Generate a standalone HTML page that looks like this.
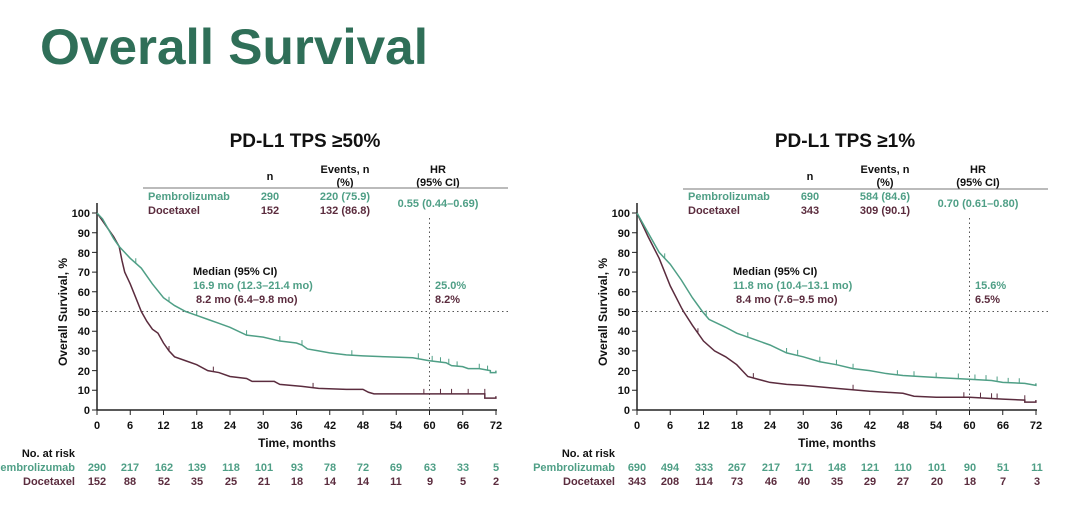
<!DOCTYPE html>
<html><head><meta charset="utf-8"><style>
html,body{margin:0;padding:0;background:#fff;}
svg{display:block;font-family:"Liberation Sans",Arial,sans-serif;font-weight:bold;}
.g{fill:#4f9f86}.m{fill:#5b2c3e}.k{fill:#111}
</style></head><body>
<svg width="1080" height="520" viewBox="0 0 1080 520">
<text x="40" y="64" font-size="50" fill="#2f6f58" textLength="388" lengthAdjust="spacingAndGlyphs">Overall Survival</text>

<g id="L">
<text x="305" y="147" font-size="19" text-anchor="middle" class="k">PD-L1 TPS ≥50%</text>
<g font-size="11" text-anchor="middle">
<text x="270" y="180" class="k">n</text>
<text x="345" y="173" class="k">Events, n</text>
<text x="345" y="186" class="k">(%)</text>
<text x="438" y="173" class="k">HR</text>
<text x="438" y="186" class="k">(95% CI)</text>
<text x="270" y="200" class="g">290</text>
<text x="345" y="200" class="g">220 (75.9)</text>
<text x="270" y="214" class="m">152</text>
<text x="345" y="214" class="m">132 (86.8)</text>
<text x="438" y="207" class="g">0.55 (0.44–0.69)</text>
</g>
<line x1="143" y1="188" x2="508" y2="188" stroke="#777" stroke-width="1"/>
<text x="148" y="200" font-size="11" class="g">Pembrolizumab</text>
<text x="148" y="214" font-size="11" class="m">Docetaxel</text>
</g>

<g id="R">
<text x="845" y="147" font-size="19" text-anchor="middle" class="k">PD-L1 TPS ≥1%</text>
<g font-size="11" text-anchor="middle">
<text x="810" y="180" class="k">n</text>
<text x="885" y="173" class="k">Events, n</text>
<text x="885" y="186" class="k">(%)</text>
<text x="978" y="173" class="k">HR</text>
<text x="978" y="186" class="k">(95% CI)</text>
<text x="810" y="200" class="g">690</text>
<text x="885" y="200" class="g">584 (84.6)</text>
<text x="810" y="214" class="m">343</text>
<text x="885" y="214" class="m">309 (90.1)</text>
<text x="978" y="207" class="g">0.70 (0.61–0.80)</text>
</g>
<line x1="683" y1="189" x2="1048" y2="189" stroke="#777" stroke-width="1"/>
<text x="688" y="200" font-size="11" class="g">Pembrolizumab</text>
<text x="688" y="214" font-size="11" class="m">Docetaxel</text>
</g>

<g id="axL">
<line x1="97" y1="203" x2="97" y2="410" stroke="#222" stroke-width="1.5"/>
<line x1="97" y1="410" x2="497" y2="410" stroke="#222" stroke-width="1.5"/>
<g font-size="11" text-anchor="end" class="k">
<text x="90" y="414">0</text><text x="90" y="394">10</text><text x="90" y="375">20</text><text x="90" y="355">30</text><text x="90" y="335">40</text><text x="90" y="316">50</text><text x="90" y="296">60</text><text x="90" y="276">70</text><text x="90" y="257">80</text><text x="90" y="237">90</text><text x="90" y="217">100</text>
</g>
<path d="M92 410h5M92 390.3h5M92 370.6h5M92 350.9h5M92 331.2h5M92 311.5h5M92 291.8h5M92 272.1h5M92 252.4h5M92 232.7h5M92 213h5" stroke="#222"/>
<path d="M97 410v5M130.25 410v5M163.5 410v5M196.75 410v5M230 410v5M263.25 410v5M296.5 410v5M329.75 410v5M363 410v5M396.25 410v5M429.5 410v5M462.75 410v5M496 410v5" stroke="#222"/>
<g font-size="11" text-anchor="middle" class="k">
<text x="97" y="429">0</text><text x="130" y="429">6</text><text x="163.5" y="429">12</text><text x="197" y="429">18</text><text x="230" y="429">24</text><text x="263" y="429">30</text><text x="296.5" y="429">36</text><text x="330" y="429">42</text><text x="363" y="429">48</text><text x="396" y="429">54</text><text x="429.5" y="429">60</text><text x="463" y="429">66</text><text x="496" y="429">72</text>
</g>
<text x="297" y="447" font-size="12" text-anchor="middle" class="k">Time, months</text>
<text transform="translate(67,312) rotate(-90)" font-size="12" text-anchor="middle" class="k">Overall Survival, %</text>
<line x1="97" y1="311.5" x2="508" y2="311.5" stroke="#555" stroke-dasharray="1.5,3"/>
<line x1="429.5" y1="218" x2="429.5" y2="410" stroke="#555" stroke-dasharray="1.5,3"/>
</g>
<use href="#axL" transform="translate(540,0)"/>

<text x="193" y="275" font-size="11" class="k">Median (95% CI)</text>
<text x="193" y="289" font-size="11" class="g">16.9 mo (12.3–21.4 mo)</text>
<text x="196" y="303" font-size="11" class="m">8.2 mo (6.4–9.8 mo)</text>
<text x="435" y="289" font-size="11" class="g">25.0%</text>
<text x="435" y="303" font-size="11" class="m">8.2%</text>
<text x="733" y="275" font-size="11" class="k">Median (95% CI)</text>
<text x="733" y="289" font-size="11" class="g">11.8 mo (10.4–13.1 mo)</text>
<text x="736" y="303" font-size="11" class="m">8.4 mo (7.6–9.5 mo)</text>
<text x="975" y="289" font-size="11" class="g">15.6%</text>
<text x="975" y="303" font-size="11" class="m">6.5%</text>

<g transform="translate(97,410) scale(5.54,-1.97)" fill="none" stroke-width="1.5">
<polyline vector-effect="non-scaling-stroke" stroke="#5b2c3e" points="0,100 1,96 2,92 3,88 4,83 4.5,76 5,70 6,64 7,57 8,50 9,45 10,41 11,39 12,34 13,30 14,27 16,25 18,23 20,20 22,19 24,17 27,16 28,14.5 32,14.5 33,13 37,12 40,11 45,10.5 48,10.5 49,9 50,8.2 70,8.2 70,6 72,6 72,7"/>
<polyline vector-effect="non-scaling-stroke" stroke="#4f9f86" points="0,100 1,97 2,92 3,87 4,83 5,80 6,77 8,72 10,64 12,57 14,53 16,50 18,48 20,46 22,44 24,42 27,38 30,37 33,35 36,34 37,33 38,31 40,30 42,29 45,28 48,27.5 52,27 57,26.5 60,25 63,24 64,22.5 66,22 67,21 69,21 71,20 71,19 72,19 72,20"/>
<path vector-effect="non-scaling-stroke" stroke="#4f9f86" stroke-width="1" d="M7,74.5v2.5M13,55v2.5M18,48v2.5M27,38v2.5M33,35v2.5M37,33v2.5M46,27.8v2.5M58,26.3v2.5M60.5,25v2.5M62,24.3v2.5M63.5,23.5v2.5M65,22.2v2.5M69,21v2.5M70.5,20v2.5"/>
<path vector-effect="non-scaling-stroke" stroke="#5b2c3e" stroke-width="1" d="M13,30v2.5M21,19.5v2.5M39,11.3v2.5M59,8.2v2.5M62,8.2v2.5M64,8.2v2.5M67,8.2v2.5M70,8.2v2.5"/>
</g>
<g transform="translate(637,410) scale(5.54,-1.97)" fill="none" stroke-width="1.5">
<polyline vector-effect="non-scaling-stroke" stroke="#5b2c3e" points="0,100 2,88 4,77 6,63 8,52 8.4,50 10,43 12,35 14,30 16,27 18,23 19,20 20,17 22,15.5 24,14 27,13 30,12.5 36,11 42,9.5 48,8.5 50,7 54,6.5 60,6.5 66,5.5 70,5 70,4 72,4 72,5"/>
<polyline vector-effect="non-scaling-stroke" stroke="#4f9f86" points="0,100 2,90 4,80 6,74 8,66 10,57 11.8,50 13,46 16,42 18,39 21,36 24,33 27,29 30,27 33,24.5 36,23 39,21 42,20 45,18.5 48,17.5 54,16.5 60,15.6 64,15 66,14 70,13.5 72,12.5 72,13.5"/>
<path vector-effect="non-scaling-stroke" stroke="#4f9f86" stroke-width="1" d="M5,77v2.5M12.5,48v2.5M20,37v2.5M27,29v2.5M29,28v2.5M33,24.5v2.5M36,23v2.5M39,21v2.5M47,17.7v2.5M50,17.2v2.5M54,16.5v2.5M58,16v2.5M61,15.5v2.5M63,15.2v2.5M65,14.5v2.5M67,13.8v2.5M69,13.6v2.5"/>
<path vector-effect="non-scaling-stroke" stroke="#5b2c3e" stroke-width="1" d="M11,39v2.5M21,16.2v2.5M39,10.3v2.5M59,6.5v2.5M62,6.3v2.5M64,6v2.5M65,5.9v2.5M70,5v2.5"/>
</g>

<g font-size="11">
<text x="75" y="457" text-anchor="end" class="k">No. at risk</text>
<text x="75" y="471" text-anchor="end" class="g">Pembrolizumab</text>
<text x="75" y="485" text-anchor="end" class="m">Docetaxel</text>
<g text-anchor="middle" class="g"><text x="97" y="471">290</text><text x="130" y="471">217</text><text x="164" y="471">162</text><text x="197" y="471">139</text><text x="231" y="471">118</text><text x="264" y="471">101</text><text x="297" y="471">93</text><text x="330" y="471">78</text><text x="363" y="471">72</text><text x="396" y="471">69</text><text x="430" y="471">63</text><text x="463" y="471">33</text><text x="496" y="471">5</text></g>
<g text-anchor="middle" class="m"><text x="97" y="485">152</text><text x="130" y="485">88</text><text x="164" y="485">52</text><text x="197" y="485">35</text><text x="231" y="485">25</text><text x="264" y="485">21</text><text x="297" y="485">18</text><text x="330" y="485">14</text><text x="363" y="485">14</text><text x="396" y="485">11</text><text x="430" y="485">9</text><text x="463" y="485">5</text><text x="496" y="485">2</text></g>
<text x="615" y="457" text-anchor="end" class="k">No. at risk</text>
<text x="615" y="471" text-anchor="end" class="g">Pembrolizumab</text>
<text x="615" y="485" text-anchor="end" class="m">Docetaxel</text>
<g text-anchor="middle" class="g"><text x="637" y="471">690</text><text x="670" y="471">494</text><text x="704" y="471">333</text><text x="737" y="471">267</text><text x="771" y="471">217</text><text x="804" y="471">171</text><text x="837" y="471">148</text><text x="870" y="471">121</text><text x="903" y="471">110</text><text x="937" y="471">101</text><text x="970" y="471">90</text><text x="1003" y="471">51</text><text x="1037" y="471">11</text></g>
<g text-anchor="middle" class="m"><text x="637" y="485">343</text><text x="670" y="485">208</text><text x="704" y="485">114</text><text x="737" y="485">73</text><text x="771" y="485">46</text><text x="804" y="485">40</text><text x="837" y="485">35</text><text x="870" y="485">29</text><text x="903" y="485">27</text><text x="937" y="485">20</text><text x="970" y="485">18</text><text x="1003" y="485">7</text><text x="1037" y="485">3</text></g>
</g>
</svg>
</body></html>
